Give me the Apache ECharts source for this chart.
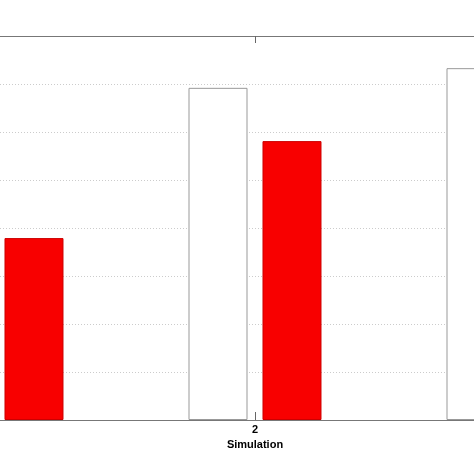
<!DOCTYPE html>
<html><head><meta charset="utf-8">
<script src="https://cdn.jsdelivr.net/npm/echarts@6/dist/echarts.min.js"></script>
<style>html,body{margin:0;padding:0;background:#fff;overflow:hidden;width:474px;height:474px;}
#wrap{position:relative;width:474px;height:474px;overflow:hidden;}
#c{position:absolute;left:-132.5px;top:0;width:774px;height:474px;}</style>
</head><body><div id="wrap"><div id="c"></div></div>
<script>
const categories = ['1', '2', '3'];
const whiteValues = [6.5, 6.92, 7.33];
const redValues = [3.79, 5.81, 6.2];
const yTicks = [0, 1, 2, 3, 4, 5, 6, 7, 8];

const chart = echarts.init(document.getElementById('c'), null, {renderer: 'canvas'});
const labelFont = {fontFamily: 'Liberation Sans, Arial, sans-serif', fontWeight: 'bold', fontSize: 11, color: '#000'};
chart.setOption({
  animation: false,
  backgroundColor: '#fff',
  grid: {left: 0, right: 0, top: 36, bottom: 54},
  xAxis: [{
    type: 'category', data: categories, position: 'bottom',
    axisLine: {show: true, lineStyle: {color: '#777', width: 1}},
    axisTick: {show: true, inside: true, alignWithLabel: true, interval: 0, length: 8, lineStyle: {color: '#666', width: 1}},
    axisLabel: Object.assign({margin: 4, interval: 0}, labelFont),
    name: 'Simulation', nameLocation: 'middle', nameGap: 18,
    nameTextStyle: labelFont, z: 10
  }, {
    type: 'category', data: categories, position: 'top',
    axisLine: {show: true, lineStyle: {color: '#777', width: 1}},
    axisTick: {show: true, inside: true, alignWithLabel: true, interval: 0, length: 7, lineStyle: {color: '#666', width: 1}},
    axisLabel: {show: false}, z: 10
  }],
  yAxis: {
    type: 'value', min: yTicks[0], max: yTicks[yTicks.length - 1], interval: 1,
    axisLine: {show: false}, axisTick: {show: false}, axisLabel: {show: false},
    splitLine: {show: true, lineStyle: {color: '#ccc', type: [1, 2], width: 1}}
  },
  series: [{
    type: 'bar', data: whiteValues, barWidth: 59, barGap: '25.4%',
    itemStyle: {color: '#fff', borderColor: '#999', borderWidth: 1}
  }, {
    type: 'bar', data: redValues, barWidth: 59,
    itemStyle: {color: '#f80000', borderColor: '#c00', borderWidth: 1}
  }]
});
</script></body></html>
